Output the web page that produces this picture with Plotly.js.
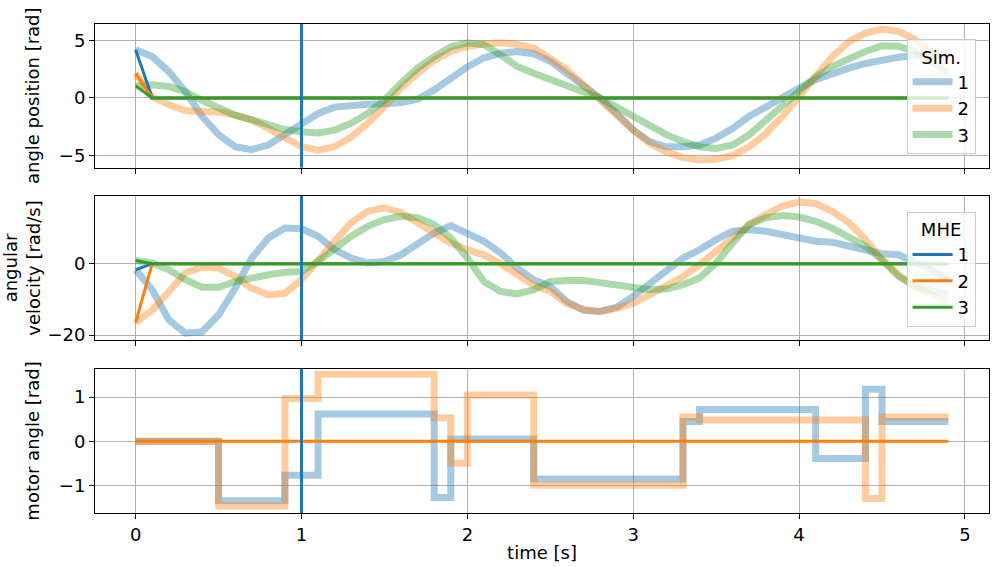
<!DOCTYPE html>
<html>
<head>
<meta charset="utf-8">
<script src="https://cdn.plot.ly/plotly-3.0.1.min.js"></script>
<style>
  html, body { margin: 0; padding: 0; background: #fff; }
  #plot { width: 994px; height: 567px; }
</style>
</head>
<body>
<div id="plot"></div>
<script>
// time axis [s]
var t = [0.0, 0.1, 0.2, 0.3, 0.4, 0.5, 0.6, 0.7, 0.8, 0.9,
         1.0, 1.1, 1.2, 1.3, 1.4, 1.5, 1.6, 1.7, 1.8, 1.9,
         2.0, 2.1, 2.2, 2.3, 2.4, 2.5, 2.6, 2.7, 2.8, 2.9,
         3.0, 3.1, 3.2, 3.3, 3.4, 3.5, 3.6, 3.7, 3.8, 3.9,
         4.0, 4.1, 4.2, 4.3, 4.4, 4.5, 4.6, 4.7, 4.8, 4.9];

// angle position [rad], simulations
var posSim1 = [4.2, 3.6, 2.3, 0.55, -1.6, -3.2, -4.25, -4.5, -4.1, -3.2,
               -2.2, -1.35, -0.8, -0.6, -0.55, -0.5, -0.4, -0.1, 0.7, 1.7,
               2.7, 3.5, 3.9, 4.05, 3.85, 3.2, 2.15, 1.15, 0.0, -1.35,
               -2.8, -3.8, -4.25, -4.25, -4.1, -3.5, -2.65, -1.6, -0.75, 0.1,
               0.85, 1.6, 2.15, 2.6, 3.0, 3.3, 3.55, 3.7, 3.75, 3.6];
var posSim2 = [2.15, 0.1, -0.6, -1.1, -1.2, -1.2, -1.5, -1.9, -2.65, -3.5,
               -4.25, -4.55, -4.25, -3.4, -2.2, -0.75, 0.85, 2.15, 3.3, 4.05,
               4.5, 4.7, 4.8, 4.65, 4.35, 3.45, 2.45, 1.15, -0.2, -1.5,
               -2.8, -3.95, -4.7, -5.2, -5.4, -5.35, -5.0, -4.25, -3.1, -1.6,
               0.1, 2.0, 3.6, 4.9, 5.65, 6.0, 5.8, 5.1, 4.05, 3.0];
var posSim3 = [1.05, 1.15, 1.0, 0.55, -0.2, -0.9, -1.5, -1.9, -2.35, -2.75,
               -2.95, -3.05, -2.8, -2.2, -1.35, -0.2, 1.3, 2.6, 3.6, 4.45,
               4.8, 4.65, 3.75, 2.75, 2.15, 1.65, 1.15, 0.55, 0.0, -0.8,
               -1.6, -2.5, -3.2, -3.8, -4.25, -4.4, -4.1, -3.2, -1.9, -0.6,
               0.7, 1.85, 2.75, 3.45, 4.05, 4.55, 4.5, 4.05, 3.2, 2.2];

// angle position [rad], MHE estimates
var posMhe1 = [4.2, 0, 0, 0, 0, 0, 0, 0, 0, 0, 0, 0, 0, 0, 0, 0, 0, 0, 0, 0, 0, 0, 0, 0, 0,
               0, 0, 0, 0, 0, 0, 0, 0, 0, 0, 0, 0, 0, 0, 0, 0, 0, 0, 0, 0, 0, 0, 0, 0, 0];
var posMhe2 = [2.15, 0, 0, 0, 0, 0, 0, 0, 0, 0, 0, 0, 0, 0, 0, 0, 0, 0, 0, 0, 0, 0, 0, 0, 0,
               0, 0, 0, 0, 0, 0, 0, 0, 0, 0, 0, 0, 0, 0, 0, 0, 0, 0, 0, 0, 0, 0, 0, 0, 0];
var posMhe3 = [1.05, 0, 0, 0, 0, 0, 0, 0, 0, 0, 0, 0, 0, 0, 0, 0, 0, 0, 0, 0, 0, 0, 0, 0, 0,
               0, 0, 0, 0, 0, 0, 0, 0, 0, 0, 0, 0, 0, 0, 0, 0, 0, 0, 0, 0, 0, 0, 0, 0, 0];

// angular velocity [rad/s], simulations
var velSim1 = [-1.7, -7.3, -15.8, -19.5, -19.1, -14.4, -6.9, 1.6, 7.2, 10.0,
               9.8, 7.7, 3.9, 1.6, 0.2, 0.65, 2.5, 5.8, 8.6, 10.7,
               8.6, 6.3, 3.0, -1.2, -4.5, -6.4, -10.6, -13.1, -13.4, -12.2,
               -9.2, -5.4, -1.7, 1.6, 3.9, 6.8, 9.1, 9.6, 9.1, 8.2,
               6.9, 6.3, 6.0, 4.9, 3.8, 2.8, 2.5, 0.65, -1.7, -4.7];
var velSim2 = [-16.5, -13.0, -7.8, -2.6, -0.9, -1.2, -3.6, -6.9, -8.7, -8.3,
               -4.5, 1.1, 6.3, 11.5, 14.7, 15.7, 14.3, 11.5, 8.6, 5.8,
               3.9, 2.5, 0.0, -3.1, -6.0, -7.8, -11.1, -12.8, -13.4, -12.5,
               -11.1, -8.7, -6.4, -3.6, -0.3, 3.5, 7.7, 11.0, 13.8, 16.2,
               17.3, 16.9, 14.7, 11.5, 6.8, 1.1, -3.1, -6.4, -8.7, -10.9];
var velSim3 = [0.9, 0.2, -1.7, -4.5, -6.6, -6.6, -5.0, -3.8, -3.1, -2.4,
               -2.2, 0.65, 4.4, 7.7, 10.5, 12.4, 13.3, 12.9, 11.0, 7.2,
               1.6, -5.0, -7.8, -8.5, -7.3, -5.0, -4.7, -4.7, -5.3, -5.9,
               -6.9, -7.3, -7.1, -5.9, -4.0, 0.2, 5.8, 11.0, 12.9, 13.5,
               13.1, 11.9, 10.0, 7.7, 4.9, 1.1, -3.6, -6.4, -7.8, -8.7];

// angular velocity [rad/s], MHE estimates
var velMhe1 = [-1.7, 0, 0, 0, 0, 0, 0, 0, 0, 0, 0, 0, 0, 0, 0, 0, 0, 0, 0, 0, 0, 0, 0, 0, 0,
               0, 0, 0, 0, 0, 0, 0, 0, 0, 0, 0, 0, 0, 0, 0, 0, 0, 0, 0, 0, 0, 0, 0, 0, 0];
var velMhe2 = [-16.5, 0, 0, 0, 0, 0, 0, 0, 0, 0, 0, 0, 0, 0, 0, 0, 0, 0, 0, 0, 0, 0, 0, 0, 0,
               0, 0, 0, 0, 0, 0, 0, 0, 0, 0, 0, 0, 0, 0, 0, 0, 0, 0, 0, 0, 0, 0, 0, 0, 0];
var velMhe3 = [0.9, 0, 0, 0, 0, 0, 0, 0, 0, 0, 0, 0, 0, 0, 0, 0, 0, 0, 0, 0, 0, 0, 0, 0, 0,
               0, 0, 0, 0, 0, 0, 0, 0, 0, 0, 0, 0, 0, 0, 0, 0, 0, 0, 0, 0, 0, 0, 0, 0, 0];

// motor angle [rad] (held from each sample to the next)
var motSim1 = [0, 0, 0, 0, 0, -1.35, -1.35, -1.35, -1.35, -0.77,
               -0.77, 0.62, 0.62, 0.62, 0.62, 0.62, 0.62, 0.62, -1.28, 0.05,
               0.05, 0.05, 0.05, 0.05, -0.86, -0.86, -0.86, -0.86, -0.86, -0.86,
               -0.86, -0.86, -0.86, 0.45, 0.72, 0.72, 0.72, 0.72, 0.72, 0.72,
               0.72, -0.39, -0.39, -0.39, 1.18, 0.45, 0.45, 0.45, 0.45, 0.45];
var motSim2 = [0, 0, 0, 0, 0, -1.47, -1.47, -1.47, -1.47, 0.97,
               0.97, 1.52, 1.52, 1.52, 1.52, 1.52, 1.52, 1.52, 0.53, -0.5,
               1.05, 1.05, 1.05, 1.05, -1.0, -1.0, -1.0, -1.0, -1.0, -1.0,
               -1.0, -1.0, -1.0, 0.55, 0.48, 0.48, 0.48, 0.48, 0.48, 0.48,
               0.48, 0.48, 0.48, 0.48, -1.3, 0.55, 0.55, 0.55, 0.55, 0.55];
var motMhe2 = [0, 0, 0, 0, 0, 0, 0, 0, 0, 0, 0, 0, 0, 0, 0, 0, 0, 0, 0, 0, 0, 0, 0, 0, 0,
               0, 0, 0, 0, 0, 0, 0, 0, 0, 0, 0, 0, 0, 0, 0, 0, 0, 0, 0, 0, 0, 0, 0, 0, 0];

var tMark = 1.0;
var names = ['1', '2', '3'];
var solid = ['#1f77b4', '#ff7f0e', '#2ca02c'];
var faded = ['rgba(31,119,180,0.4)', 'rgba(255,127,14,0.4)', 'rgba(44,160,44,0.4)'];

function sim(y, i, xa, ya, legend) {
  return {
    x: t, y: y, type: 'scatter', mode: 'lines', name: names[i],
    xaxis: xa, yaxis: ya,
    line: {color: faded[i], width: 7},
    showlegend: !!legend, legend: legend || 'legend'
  };
}
function mhe(y, i, xa, ya, legend) {
  return {
    x: t, y: y, type: 'scatter', mode: 'lines', name: names[i],
    xaxis: xa, yaxis: ya,
    line: {color: solid[i], width: 3},
    showlegend: !!legend, legend: legend || 'legend2'
  };
}

var data = [
  sim(posSim1, 0, 'x', 'y', 'legend'),
  sim(posSim2, 1, 'x', 'y', 'legend'),
  sim(posSim3, 2, 'x', 'y', 'legend'),
  mhe(posMhe1, 0, 'x', 'y'),
  mhe(posMhe2, 1, 'x', 'y'),
  mhe(posMhe3, 2, 'x', 'y'),
  sim(velSim1, 0, 'x2', 'y2'),
  sim(velSim2, 1, 'x2', 'y2'),
  sim(velSim3, 2, 'x2', 'y2'),
  mhe(velMhe1, 0, 'x2', 'y2', 'legend2'),
  mhe(velMhe2, 1, 'x2', 'y2', 'legend2'),
  mhe(velMhe3, 2, 'x2', 'y2', 'legend2')
];
var m1 = sim(motSim1, 0, 'x3', 'y3'); m1.line.shape = 'hv';
var m2 = sim(motSim2, 1, 'x3', 'y3'); m2.line.shape = 'hv';
var m3 = mhe(motMhe2, 1, 'x3', 'y3'); m3.line.shape = 'hv';
data.push(m1, m2, m3);

var font = {family: 'DejaVu Sans', size: 18, color: '#000'};
function xax(anchor, labels) {
  return {
    anchor: anchor, domain: [0, 1], range: [-0.245, 5.145], dtick: 1,
    showticklabels: labels, ticks: 'outside', ticklen: 5, tickcolor: '#000',
    showline: true, mirror: true, linecolor: '#000', linewidth: 1,
    showgrid: true, gridcolor: '#b0b0b0', gridwidth: 1, zeroline: false,
    tickfont: font
  };
}
function yax(anchor, dom, range, dtick, title) {
  return {
    anchor: anchor, domain: dom, range: range, dtick: dtick,
    ticks: 'outside', ticklen: 5, tickcolor: '#000',
    showline: true, mirror: true, linecolor: '#000', linewidth: 1,
    showgrid: true, gridcolor: '#b0b0b0', gridwidth: 1, zeroline: false,
    tickfont: font, title: {text: title, font: font, standoff: 14}
  };
}
function vline(xr, yr) {
  return {type: 'line', xref: xr, yref: yr + ' domain', x0: tMark, x1: tMark, y0: 0, y1: 1,
          line: {color: '#1f77b4', width: 3}};
}
function legendBox(title, y) {
  return {
    title: {text: title, side: 'top center', font: font},
    x: 0.985, xanchor: 'right', y: y, yanchor: 'top',
    bgcolor: 'rgba(255,255,255,0.8)', bordercolor: '#cccccc', borderwidth: 1,
    font: font, traceorder: 'normal', itemwidth: 40
  };
}

var xa3 = xax('y3', true);
xa3.title = {text: 'time [s]', font: font, standoff: 2};

var layout = {
  width: 994, height: 567,
  margin: {l: 95, r: 5, t: 24, b: 54},
  paper_bgcolor: '#fff', plot_bgcolor: '#fff',
  font: font,
  xaxis: xax('y', false),
  xaxis2: xax('y2', false),
  xaxis3: xa3,
  yaxis: yax('x', [0.7065, 1], [-6.06, 6.44], 5, 'angle position [rad]'),
  yaxis2: yax('x2', [0.3538, 0.6483], [-21.4, 19.0], 20, 'angular<br>velocity [rad/s]'),
  yaxis3: yax('x3', [0, 0.2945], [-1.63, 1.64], 1, 'motor angle [rad]'),
  shapes: [vline('x', 'y'), vline('x2', 'y2'), vline('x3', 'y3')],
  legend: legendBox('Sim.', 0.969),
  legend2: legendBox('MHE', 0.616)
};

Plotly.newPlot('plot', data, layout, {displayModeBar: false, staticPlot: true});
</script>
</body>
</html>
